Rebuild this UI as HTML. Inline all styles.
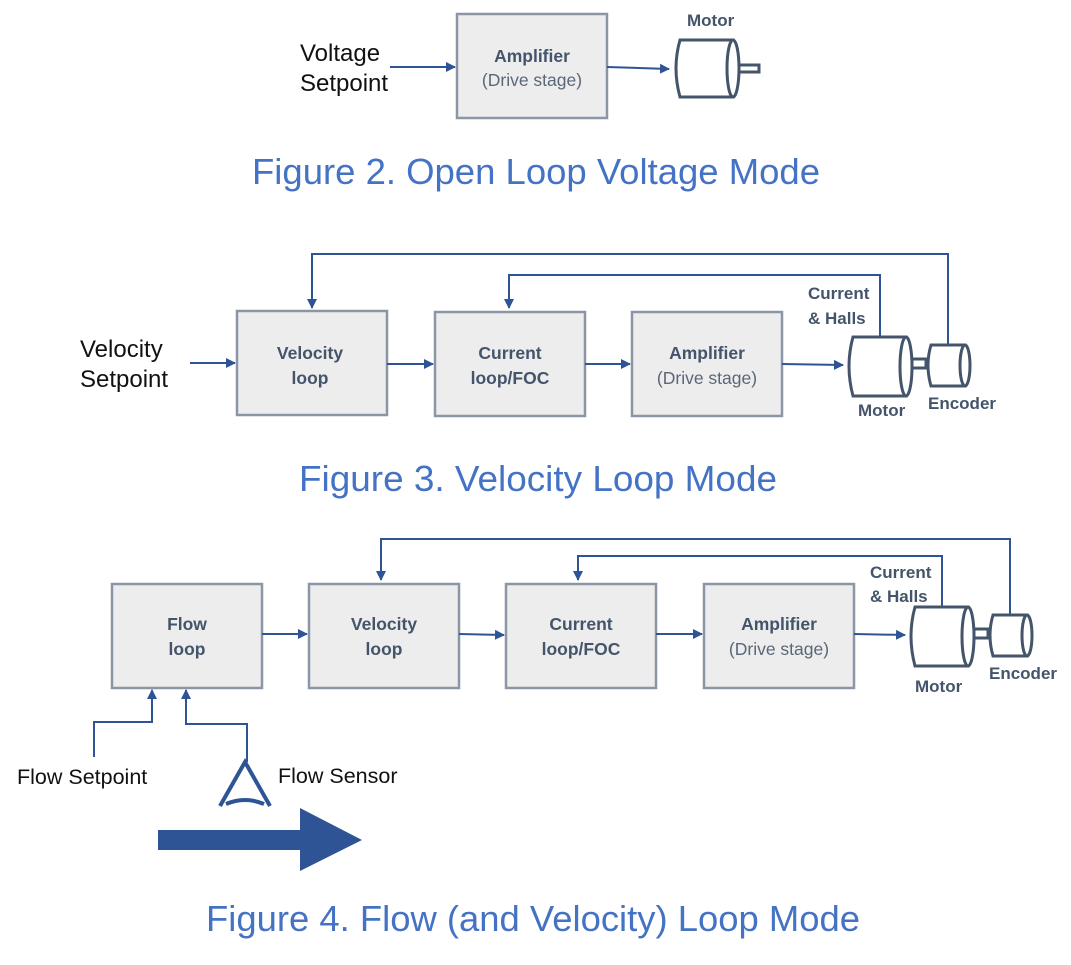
<!DOCTYPE html>
<html><head><meta charset="utf-8"><style>
html,body{margin:0;padding:0;background:#fff}
svg{display:block}
.bx{fill:#ededed;stroke:#8a96a6;stroke-width:2.5}
.bt{font-family:"Liberation Sans",sans-serif;font-weight:bold;font-size:17.5px;fill:#44546a;text-anchor:middle}
.bn{font-family:"Liberation Sans",sans-serif;font-size:17.5px;fill:#5a6778;text-anchor:middle}
.lb{font-family:"Liberation Sans",sans-serif;font-weight:bold;font-size:17px;fill:#44546a}
.tx{font-family:"Liberation Sans",sans-serif;font-size:24px;fill:#111}
.tx2{font-family:"Liberation Sans",sans-serif;font-size:21.5px;fill:#111}
.ti{font-family:"Liberation Sans",sans-serif;font-size:36px;fill:#4472c4}
.ln{fill:none;stroke:#2f5496;stroke-width:2}
.mo{fill:#fff;stroke:#44546a;stroke-width:3}
</style></head><body>
<svg width="1071" height="965" viewBox="0 0 1071 965" xmlns="http://www.w3.org/2000/svg">
<defs><marker id="a" viewBox="0 0 10 10" refX="9" refY="5" markerWidth="5" markerHeight="5" orient="auto"><path d="M0,0L10,5L0,10z" fill="#2f5496"/></marker></defs>

<!-- Figure 2 -->
<text class="tx" x="300" y="61">Voltage</text>
<text class="tx" x="300" y="91">Setpoint</text>
<line class="ln" x1="390" y1="67" x2="455" y2="67" marker-end="url(#a)"/>
<rect class="bx" x="457" y="14" width="150" height="104"/>
<text class="bt" x="532" y="62">Amplifier</text>
<text class="bn" x="532" y="86">(Drive stage)</text>
<line class="ln" x1="607" y1="67" x2="669" y2="69" marker-end="url(#a)"/>
<text class="lb" x="687" y="26">Motor</text>
<g>
<path class="mo" d="M680,40 L733,40 L733,97 L680,97 Q672,68 680,40 Z"/>
<ellipse class="mo" cx="733" cy="68.5" rx="6" ry="28.5"/>
<rect class="mo" x="739" y="65" width="20" height="7" stroke-width="2.5"/>
</g>
<text class="ti" x="252" y="184" textLength="568" lengthAdjust="spacingAndGlyphs">Figure 2.  Open Loop Voltage Mode</text>

<!-- Figure 3 -->
<text class="tx" x="80" y="357">Velocity</text>
<text class="tx" x="80" y="387">Setpoint</text>
<line class="ln" x1="190" y1="363" x2="235" y2="363" marker-end="url(#a)"/>
<rect class="bx" x="237" y="311" width="150" height="104"/>
<text class="bt" x="310" y="359">Velocity</text>
<text class="bt" x="310" y="384">loop</text>
<line class="ln" x1="387" y1="364" x2="433" y2="364" marker-end="url(#a)"/>
<rect class="bx" x="435" y="312" width="150" height="104"/>
<text class="bt" x="510" y="359">Current</text>
<text class="bt" x="510" y="384">loop/FOC</text>
<line class="ln" x1="585" y1="364" x2="630" y2="364" marker-end="url(#a)"/>
<rect class="bx" x="632" y="312" width="150" height="104"/>
<text class="bt" x="707" y="359">Amplifier</text>
<text class="bn" x="707" y="384">(Drive stage)</text>
<line class="ln" x1="782" y1="364" x2="843" y2="365" marker-end="url(#a)"/>
<polyline class="ln" points="880,337 880,275 509,275 509,308" marker-end="url(#a)"/>
<polyline class="ln" points="948,345 948,254 312,254 312,308" marker-end="url(#a)"/>
<text class="lb" x="808" y="299">Current</text>
<text class="lb" x="808" y="324">&amp; Halls</text>
<path class="mo" d="M853,337 L906,337 L906,396 L853,396 Q845,366 853,337 Z"/>
<ellipse class="mo" cx="906" cy="366.5" rx="6" ry="29.5"/>
<rect class="mo" x="912" y="359" width="14" height="9" stroke-width="2.5"/>
<path class="mo" d="M931,345 L965,345 L965,386 L931,386 Q925,365 931,345 Z"/>
<ellipse class="mo" cx="965" cy="365.5" rx="5" ry="20.5"/>
<text class="lb" x="858" y="416">Motor</text>
<text class="lb" x="928" y="409">Encoder</text>
<text class="ti" x="299" y="491" textLength="478" lengthAdjust="spacingAndGlyphs">Figure 3.  Velocity Loop Mode</text>

<!-- Figure 4 -->
<rect class="bx" x="112" y="584" width="150" height="104"/>
<text class="bt" x="187" y="630">Flow</text>
<text class="bt" x="187" y="655">loop</text>
<line class="ln" x1="262" y1="634" x2="307" y2="634" marker-end="url(#a)"/>
<rect class="bx" x="309" y="584" width="150" height="104"/>
<text class="bt" x="384" y="630">Velocity</text>
<text class="bt" x="384" y="655">loop</text>
<line class="ln" x1="459" y1="634" x2="504" y2="635" marker-end="url(#a)"/>
<rect class="bx" x="506" y="584" width="150" height="104"/>
<text class="bt" x="581" y="630">Current</text>
<text class="bt" x="581" y="655">loop/FOC</text>
<line class="ln" x1="656" y1="634" x2="702" y2="634" marker-end="url(#a)"/>
<rect class="bx" x="704" y="584" width="150" height="104"/>
<text class="bt" x="779" y="630">Amplifier</text>
<text class="bn" x="779" y="655">(Drive stage)</text>
<line class="ln" x1="854" y1="634" x2="905" y2="635" marker-end="url(#a)"/>
<polyline class="ln" points="942,607 942,556 578,556 578,580" marker-end="url(#a)"/>
<polyline class="ln" points="1010,615 1010,539 381,539 381,580" marker-end="url(#a)"/>
<text class="lb" x="870" y="578">Current</text>
<text class="lb" x="870" y="602">&amp; Halls</text>
<path class="mo" d="M915,607 L968,607 L968,666 L915,666 Q907,636 915,607 Z"/>
<ellipse class="mo" cx="968" cy="636.5" rx="6" ry="29.5"/>
<rect class="mo" x="974" y="629" width="14" height="9" stroke-width="2.5"/>
<path class="mo" d="M993,615 L1027,615 L1027,656 L993,656 Q987,635 993,615 Z"/>
<ellipse class="mo" cx="1027" cy="635.5" rx="5" ry="20.5"/>
<text class="lb" x="915" y="692">Motor</text>
<text class="lb" x="989" y="679">Encoder</text>

<polyline class="ln" points="94,757 94,722 152,722 152,690" marker-end="url(#a)"/>
<polyline class="ln" points="247,762 247,724 186,724 186,690" marker-end="url(#a)"/>
<path d="M220,806 L245,762 L270,806" fill="none" stroke="#2f5496" stroke-width="4"/>
<path d="M226,804 Q245,796 264,804" fill="none" stroke="#2f5496" stroke-width="4"/>
<text class="tx2" x="17" y="784">Flow Setpoint</text>
<text class="tx2" x="278" y="783">Flow Sensor</text>
<path d="M158,830 L300,830 L300,808 L362,840 L300,871 L300,850 L158,850 Z" fill="#2f5496"/>
<text class="ti" x="206" y="931" textLength="654" lengthAdjust="spacingAndGlyphs">Figure 4.  Flow (and Velocity) Loop Mode</text>
</svg>
</body></html>
